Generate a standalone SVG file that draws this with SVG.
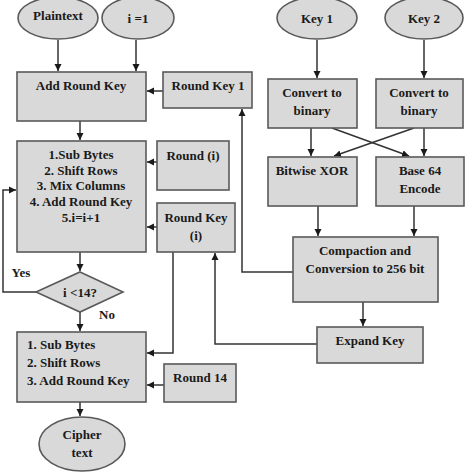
<svg xmlns="http://www.w3.org/2000/svg" width="474" height="474" viewBox="0 0 474 474">
<defs>
<marker id="ah" markerWidth="8" markerHeight="8" refX="7" refY="4" orient="auto" markerUnits="userSpaceOnUse">
<path d="M0,0.5 L7,4 L0,7.5 Z" fill="#1a1a1a"/>
</marker>
<style>
.n{fill:#d9d9d9;stroke:#595959;stroke-width:1.6}
.t{font-family:"Liberation Serif","Times New Roman",serif;font-weight:bold;font-size:13px;fill:#1a1a1a;text-anchor:middle}
.l{text-anchor:start}
.c{fill:none;stroke:#333;stroke-width:1.5}
.a{marker-end:url(#ah)}
</style>
</defs>
<rect width="474" height="474" fill="#fff"/>
<g id="connectors">
<line class="c a" x1="58" y1="40" x2="58" y2="71"/>
<line class="c a" x1="136" y1="40" x2="136" y2="71"/>
<line class="c a" x1="163" y1="91" x2="147" y2="91"/>
<line class="c a" x1="80" y1="121" x2="80" y2="140"/>
<line class="c a" x1="157" y1="162" x2="147" y2="162"/>
<line class="c a" x1="157" y1="227" x2="147" y2="227"/>
<line class="c a" x1="80" y1="252" x2="80" y2="271"/>
<polyline class="c a" points="36,292 3,292 3,190 16,190"/>
<line class="c a" x1="80" y1="312" x2="80" y2="331"/>
<polyline class="c a" points="173,252 173,353 147,353"/>
<line class="c a" x1="164" y1="385" x2="147" y2="385"/>
<line class="c a" x1="80" y1="402" x2="80" y2="416"/>
<polyline class="c a" points="317,344 215,344 215,253"/>
<polyline class="c a" points="293,272 242,272 242,109"/>
<line class="c a" x1="317" y1="40" x2="317" y2="78"/>
<line class="c a" x1="424" y1="40" x2="424" y2="78"/>
<line class="c a" x1="311" y1="128" x2="311" y2="156"/>
<line class="c a" x1="424" y1="128" x2="424" y2="156"/>
<line class="c a" x1="332" y1="128" x2="409" y2="156"/>
<line class="c a" x1="414" y1="128" x2="334" y2="156"/>
<line class="c a" x1="318" y1="206" x2="318" y2="236"/>
<line class="c a" x1="414" y1="206" x2="414" y2="236"/>
<line class="c a" x1="363" y1="302" x2="363" y2="326"/>
</g>
<g id="plaintext"><ellipse class="n" cx="58" cy="18" rx="40" ry="21"/><text class="t" x="58" y="20">Plaintext</text></g>
<g id="i1"><ellipse class="n" cx="138" cy="18" rx="36" ry="21"/><text class="t" x="138" y="23">i =1</text></g>
<g id="key1"><ellipse class="n" cx="317" cy="18" rx="40" ry="21"/><text class="t" x="317" y="23">Key 1</text></g>
<g id="key2"><ellipse class="n" cx="424" cy="18" rx="39" ry="21"/><text class="t" x="424" y="23">Key 2</text></g>
<g id="addroundkey"><rect class="n" x="17" y="72" width="129" height="49"/><text class="t" x="81" y="90">Add Round Key</text></g>
<g id="roundkey1"><rect class="n" x="163" y="72" width="89" height="36"/><text class="t" x="208" y="90">Round Key 1</text></g>
<g id="rounds"><rect class="n" x="17" y="141" width="129" height="111"/>
<text class="t" x="81" y="159">1.Sub Bytes</text>
<text class="t" x="81" y="175">2. Shift Rows</text>
<text class="t" x="81" y="190">3. Mix Columns</text>
<text class="t" x="81" y="206">4. Add Round Key</text>
<text class="t" x="81" y="222">5.i=i+1</text></g>
<g id="roundi"><rect class="n" x="157" y="141" width="72" height="49"/><text class="t" x="193" y="160">Round (i)</text></g>
<g id="roundkeyi"><rect class="n" x="157" y="203" width="78" height="49"/><text class="t" x="196" y="222">Round Key</text><text class="t" x="196" y="240">(i)</text></g>
<g id="decision"><polygon class="n" points="80,272 123,292 80,312 36,292"/><text class="t" x="80" y="297">i &lt;14?</text></g>
<g id="labels"><text class="t" x="21" y="277">Yes</text><text class="t" x="107" y="319">No</text></g>
<g id="final"><rect class="n" x="17" y="332" width="129" height="70"/>
<text class="t l" x="27" y="349">1. Sub Bytes</text>
<text class="t l" x="27" y="367">2. Shift Rows</text>
<text class="t l" x="27" y="385">3. Add Round Key</text></g>
<g id="round14"><rect class="n" x="164" y="364" width="72" height="38"/><text class="t" x="200" y="382">Round 14</text></g>
<g id="cipher"><ellipse class="n" cx="82" cy="444" rx="43" ry="27"/><text class="t" x="82" y="439">Cipher</text><text class="t" x="82" y="457">text</text></g>
<g id="convert1"><rect class="n" x="268" y="79" width="89" height="49"/><text class="t" x="312" y="97">Convert to</text><text class="t" x="312" y="115">binary</text></g>
<g id="convert2"><rect class="n" x="376" y="79" width="87" height="49"/><text class="t" x="419" y="97">Convert to</text><text class="t" x="419" y="115">binary</text></g>
<g id="xor"><rect class="n" x="268" y="157" width="89" height="49"/><text class="t" x="312" y="175">Bitwise XOR</text></g>
<g id="base64"><rect class="n" x="376" y="157" width="88" height="49"/><text class="t" x="420" y="175">Base 64</text><text class="t" x="420" y="193">Encode</text></g>
<g id="compaction"><rect class="n" x="293" y="237" width="145" height="65"/><text class="t" x="365" y="255">Compaction and</text><text class="t" x="365" y="273">Conversion to 256 bit</text></g>
<g id="expand"><rect class="n" x="317" y="327" width="106" height="36"/><text class="t" x="370" y="345">Expand Key</text></g>
</svg>
